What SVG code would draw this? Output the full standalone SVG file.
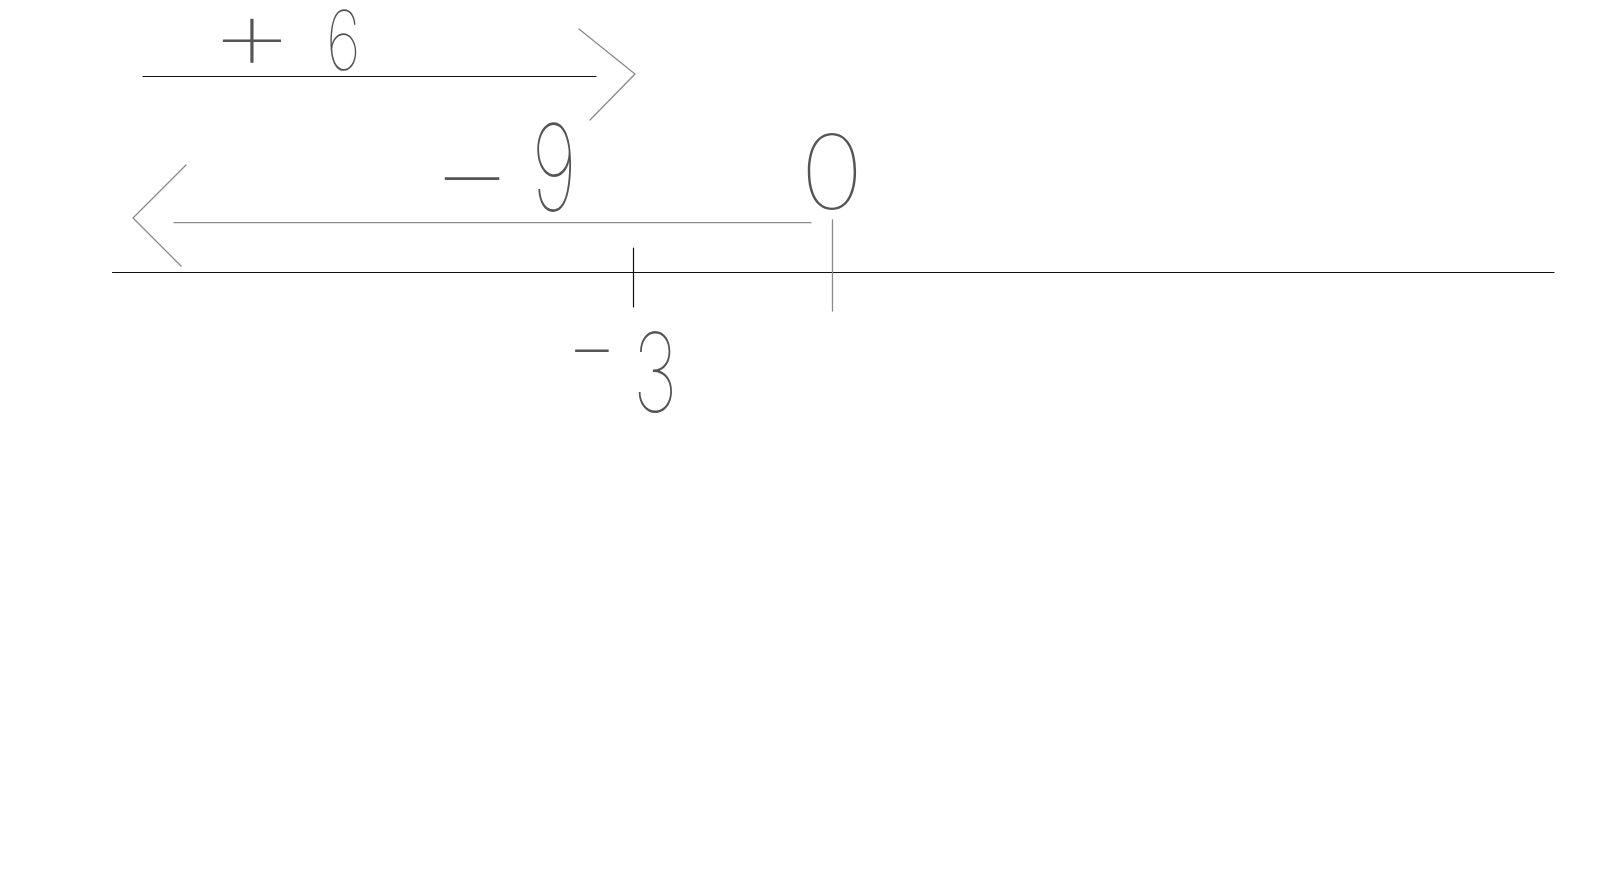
<svg xmlns="http://www.w3.org/2000/svg" width="1600" height="886" viewBox="0 0 1600 886">
<style>
.dark{stroke:#111;stroke-width:1.2;fill:none;stroke-linecap:round}
.gray{stroke:#8a8a8a;stroke-width:1.3;fill:none;stroke-linecap:round}
.lbl{font-family:Inter,"Liberation Sans",sans-serif;font-weight:100;fill:#555}
</style>
<rect width="1600" height="886" fill="#fff"/>
<g id="axis">
<line class="dark" x1="112.5" y1="272.5" x2="1554" y2="272.5"/>
</g>
<g id="tick-minus3">
<line class="dark" x1="633.5" y1="248" x2="633.5" y2="307"/>
<text class="lbl" font-size="110" transform="translate(566 382) scale(0.74 1)">−</text>
<text class="lbl" font-size="110" transform="translate(632.7 412) scale(0.7 1)">3</text>
</g>
<g id="tick-zero">
<line class="gray" x1="832.5" y1="220" x2="832.5" y2="311"/>
<text class="lbl" font-size="103" transform="translate(832 209) scale(1.05 1)" text-anchor="middle">0</text>
</g>
<g id="connectors">
<g id="arrow-plus6">
<line class="dark" x1="143" y1="76.5" x2="596" y2="76.5"/>
<polyline class="gray" points="579,29 635,74 590,120"/>
</g>
<g id="arrow-minus9">
<line class="gray" x1="174" y1="222.7" x2="811" y2="222.7"/>
<polyline class="gray" points="186,165 133,218 181,266"/>
</g>
</g>
<g id="label-plus6">
<text class="lbl" font-size="107" transform="translate(252 71.4) scale(1.32 1)" text-anchor="middle">+</text>
<text class="lbl" font-size="82" transform="translate(326 70) scale(0.75 1)">6</text>
</g>
<g id="label-minus9">
<text class="lbl" font-size="120" transform="translate(430 213) scale(1.1 1)">−</text>
<text class="lbl" font-size="120" transform="translate(531.5 211) scale(0.67 1)">9</text>
</g>
</svg>
